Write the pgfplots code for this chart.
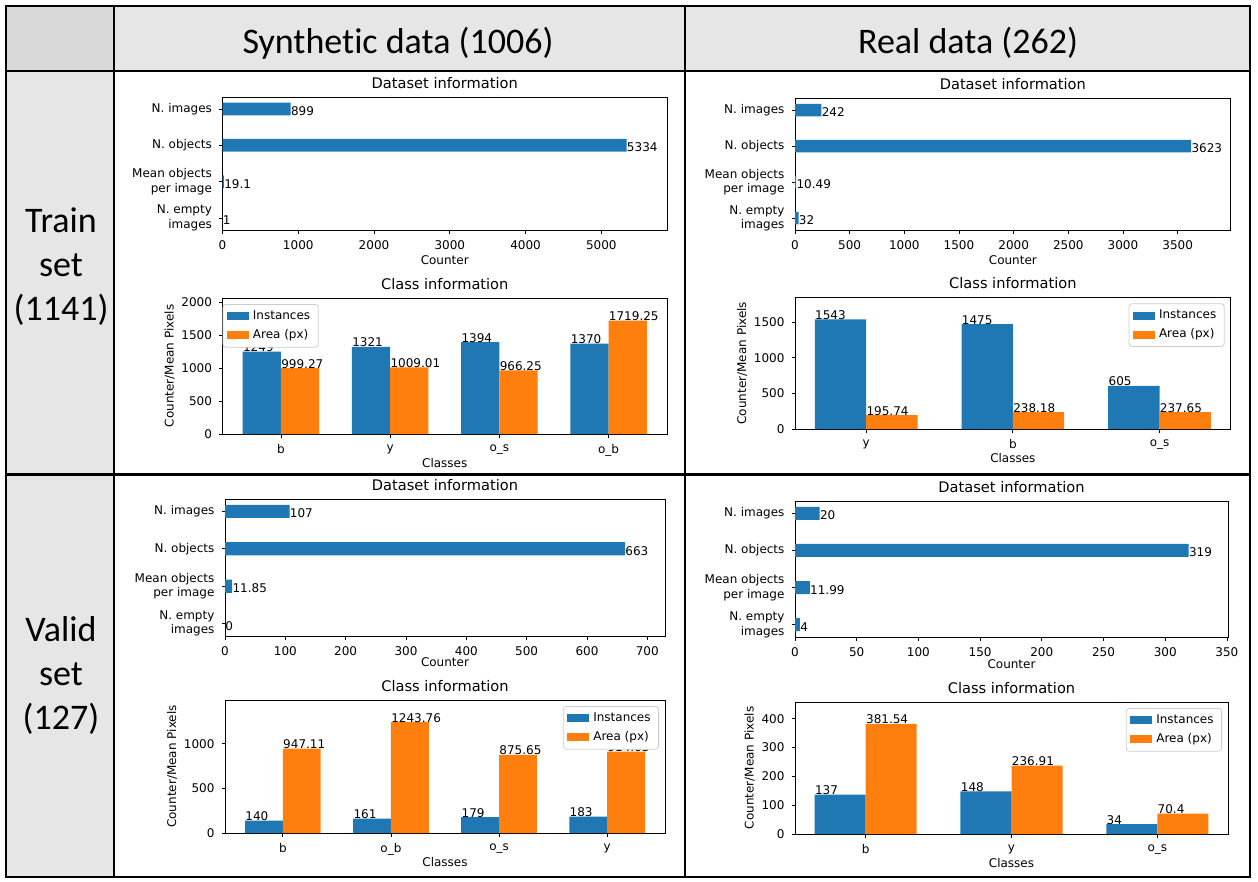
\documentclass[border=0pt]{standalone}
\usepackage{fontspec}
\setmainfont{DejaVu Sans}
\newfontfamily\calfont[Ligatures=NoCommon]{Carlito}
\usepackage{pgfplots}
\pgfplotsset{compat=1.18}

\definecolor{mblue}{HTML}{1F77B4}
\definecolor{morange}{HTML}{FF7F0E}
\definecolor{hdr}{HTML}{E7E6E6}
\definecolor{corner}{HTML}{D9D9D9}
\newcommand\fs{\fontsize{6}{7.2}\selectfont}

\pgfplotsset{
  sq/.style={legend image code/.code={\fill[##1, sharp corners] (0pt,-2pt) rectangle (11pt,2pt);}},
  base/.style={
    scale only axis, anchor=south west, clip=false,
    axis line style={line width=0.4pt},
    tick style={line width=0.4pt, black},
    major tick length=1.75pt, tick align=outside,
    xtick pos=left, ytick pos=left,
    tick label style={font=\fs},
    label style={font=\fs},
    title style={font=\fontsize{7.3}{8}\selectfont, yshift=-3pt, inner sep=1pt},
    ylabel shift=-3.5pt,
    /pgf/number format/assume math mode=true,
    /pgf/number format/1000 sep={},
  },
  xl/.style={x label style={at={(axis description cs:0.5,0)}, anchor=base, yshift=-#1}},
  dset/.style={
    base, xmin=0, ymin=-0.33, ymax=3.33, y dir=reverse,
    ytick={0,1,2,3},
    yticklabels={N. images,N. objects,{Mean objects\\per image},{N. empty\\images}},
    yticklabel style={align=right},
    xlabel={Counter}, title={Dataset information},
  },
  cls/.style={
    base, ymin=0, xlabel={Classes}, ylabel={Counter/Mean Pixels},
    title={Class information}, xl=16.5pt,
    legend cell align=left,
    legend style={font=\fs, draw=black!20, rounded corners=1.5pt,
      at={(1,1)}, anchor=north east, xshift=-3pt, yshift=-3pt,
      inner xsep=2pt, inner ysep=1pt, row sep=-0.5pt},
  },
  dbar/.style={xbar, bar width=0.35, fill=mblue, draw=none},
  ib/.style={ybar, bar width=0.35, bar shift=-0.175, fill=mblue, draw=none, sq},
  ab/.style={ybar, bar width=0.35, bar shift=0.175, fill=morange, draw=none, sq},
  lbl/.style={forget plot, draw=none, mark=none, nodes near coords,
    point meta=explicit symbolic,
    nodes near coords style={anchor=base west, inner sep=0pt, font=\fs, text=black}},
}

\begin{document}
\begin{tikzpicture}
\begin{scope}[x=0.5pt, y=-0.5pt]
  \useasboundingbox (0,0) rectangle (1258,882);
  \fill[hdr] (6,6) rectangle (1250,71);
  \fill[corner] (6,6) rectangle (114,71);
  \fill[hdr] (6,71) rectangle (114,877);
\end{scope}

% ---------- Train / Synthetic ----------
\begin{axis}[dset, xl=17pt, at={(111.25pt,-115pt)}, width=222.25pt, height=66.5pt,
  xmax=5867.4, xtick={0,1000,...,5000}]
\addplot[dbar] table {
x y
899 0
5334 1
19.1 2
1 3
};
\addplot[lbl] table[meta=l] {
x y l
899 0.175 899
5334 1.175 5334
19.1 2.175 19.1
1 3.175 1
};
\end{axis}

\begin{axis}[cls, at={(111.25pt,-217pt)}, width=222.25pt, height=68pt,
  xmin=-0.535, xmax=3.535, ymax=2063.1, ytick={0,500,...,2000},
  xtick={0,1,2,3}, xticklabels={b,y,o\_s,o\_b},
  legend style={at={(0,1)}, anchor=north west, xshift=3pt}]
\addplot[ib] coordinates {(0,1249) (1,1321) (2,1394) (3,1370)};
\addplot[ab] coordinates {(0,999.27) (1,1009.01) (2,966.25) (3,1719.25)};
\addplot[lbl] table[meta=l] {
x y l
-0.35 1249 1249
0.65 1321 1321
1.65 1394 1394
2.65 1370 1370
0 999.27 999.27
1 1009.01 1009.01
2 966.25 966.25
3 1719.25 1719.25
};
\legend{Instances, Area (px)}
\end{axis}

% ---------- Train / Real ----------
\begin{axis}[dset, xl=17pt, at={(397.5pt,-115pt)}, width=217.85pt, height=65.85pt,
  xmax=3985.3, xtick={0,500,...,3500}]
\addplot[dbar] table {
x y
242 0
3623 1
10.49 2
32 3
};
\addplot[lbl] table[meta=l] {
x y l
242 0.175 242
3623 1.175 3623
10.49 2.175 10.49
32 3.175 32
};
\end{axis}

\begin{axis}[cls, at={(397.5pt,-214.5pt)}, width=217.85pt, height=65.85pt,
  xmin=-0.485, xmax=2.485, ymax=1851.6, ytick={0,500,...,1500},
  xtick={0,1,2}, xticklabels={y,b,o\_s}]
\addplot[ib] coordinates {(0,1543) (1,1475) (2,605)};
\addplot[ab] coordinates {(0,195.74) (1,238.18) (2,237.65)};
\addplot[lbl] table[meta=l] {
x y l
-0.35 1543 1543
0.65 1475 1475
1.65 605 605
0 195.74 195.74
1 238.18 238.18
2 237.65 237.65
};
\legend{Instances, Area (px)}
\end{axis}

% ---------- Valid / Synthetic ----------
\begin{axis}[dset, xl=15pt, at={(112.5pt,-318pt)}, width=220pt, height=68.5pt,
  xmax=729.3, xtick={0,100,...,700}]
\addplot[dbar] table {
x y
107 0
663 1
11.85 2
0 3
};
\addplot[lbl] table[meta=l] {
x y l
107 0.175 107
663 1.175 663
11.85 2.175 11.85
0 3.175 0
};
\end{axis}

\begin{axis}[cls, at={(112.5pt,-416.5pt)}, width=220pt, height=66.5pt,
  xmin=-0.535, xmax=3.535, ymax=1492.5, ytick={0,500,1000},
  xtick={0,1,2,3}, xticklabels={b,o\_b,o\_s,y}]
\addplot[ib] coordinates {(0,140) (1,161) (2,179) (3,183)};
\addplot[ab] coordinates {(0,947.11) (1,1243.76) (2,875.65) (3,914.03)};
\addplot[lbl] table[meta=l] {
x y l
-0.35 140 140
0.65 161 161
1.65 179 179
2.65 183 183
0 947.11 947.11
1 1243.76 1243.76
2 875.65 875.65
3 914.03 914.03
};
\legend{Instances, Area (px)}
\end{axis}

% ---------- Valid / Real ----------
\begin{axis}[dset, xl=15.5pt, at={(397.5pt,-318.5pt)}, width=216.5pt, height=68pt,
  xmax=350.9, xtick={0,50,...,350}]
\addplot[dbar] table {
x y
20 0
319 1
11.99 2
4 3
};
\addplot[lbl] table[meta=l] {
x y l
20 0.175 20
319 1.175 319
11.99 2.175 11.99
4 3.175 4
};
\end{axis}

\begin{axis}[cls, at={(397.5pt,-417pt)}, width=216.5pt, height=66pt,
  xmin=-0.485, xmax=2.485, ymax=457.8, ytick={0,100,...,400},
  xtick={0,1,2}, xticklabels={b,y,o\_s}]
\addplot[ib] coordinates {(0,137) (1,148) (2,34)};
\addplot[ab] coordinates {(0,381.54) (1,236.91) (2,70.4)};
\addplot[lbl] table[meta=l] {
x y l
-0.35 137 137
0.65 148 148
1.65 34 34
0 381.54 381.54
1 236.91 236.91
2 70.4 70.4
};
\legend{Instances, Area (px)}
\end{axis}

\begin{scope}[x=0.5pt, y=-0.5pt]
  \draw[line width=1.25pt] (6,6) rectangle (1250,877);
  \draw[line width=1.25pt] (114,6) -- (114,877);
  \draw[line width=1.25pt] (685,6) -- (685,877);
  \draw[line width=1.25pt] (6,71) -- (1250,71);
  \draw[line width=1.25pt] (6,474.5) -- (1250,474.5);
  \node[font=\calfont\fontsize{18}{20}\selectfont] at (398,43) {Synthetic data (1006)};
  \node[font=\calfont\fontsize{18}{20}\selectfont] at (968,43) {Real data (262)};
  \node[align=center, font=\calfont\fontsize{18}{22}\selectfont] at (61,267) {Train\\set\\(1141)};
  \node[align=center, font=\calfont\fontsize{18}{22}\selectfont] at (61,675) {Valid\\set\\(127)};
\end{scope}
\end{tikzpicture}
\end{document}
